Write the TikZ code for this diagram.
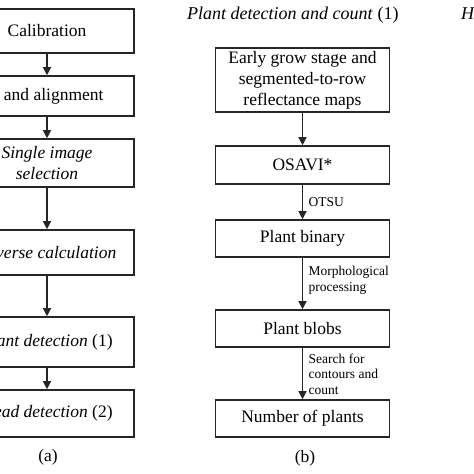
\documentclass[tikz,border=0pt]{standalone}
\usepackage{fontspec}
\setmainfont{Liberation Serif}
\usetikzlibrary{arrows.meta}
\begin{document}
\begin{tikzpicture}[x=1pt,y=-1pt,
  box/.style={draw=black!85, line width=1.6pt, fill=white, inner sep=0pt, align=center,
    minimum width=174pt, font=\fontsize{17.5}{21}\selectfont},
  arr/.style={-{Triangle[length=8pt,width=8pt]}, line width=1.3pt, draw=black!85},
  lab/.style={anchor=west, align=left, inner sep=0pt, font=\fontsize{13.5}{15.5}\selectfont},
  captxt/.style={inner sep=0pt, font=\fontsize{17.5}{21}\selectfont}]
\useasboundingbox (0,0) rectangle (474,474);
\clip (0,0) rectangle (474,474);
\fill[white] (0,0) rectangle (474,474);

% panel (a)
\node[box, minimum height=44pt] (a1) at (47,31) {Calibration};
\node[box, minimum height=40pt] (a2) at (47,96) {\makebox[113pt][r]{Registration and alignment}};
\node[box, minimum height=48pt] (a3) at (47,163) {\itshape Single image\\\itshape selection};
\node[box, minimum height=45pt] (a4) at (47,252.5) {\itshape Reverse calculation};
\node[box, minimum height=50pt] (a5) at (47,342) {\textit{Plant detection} (1)};
\node[box, minimum height=47pt] (a6) at (47,413.5) {\textit{Head detection} (2)};
\draw[arr] (a1) -- (a2);
\draw[arr] (a2) -- (a3);
\draw[arr] (a3) -- (a4);
\draw[arr] (a4) -- (a5);
\draw[arr] (a5) -- (a6);
\node[captxt] (capa) at (48,457) {(a)};

% panel (b)
\node[captxt, anchor=west, font=\fontsize{18}{21}\selectfont] (tb) at (187,15) {\textit{Plant detection and count} (1)};
\node[box, minimum height=64pt] (b1) at (302.5,80) {Early grow stage and\\segmented-to-row\\reflectance maps};
\node[box, minimum height=38pt] (b2) at (302.5,165) {OSAVI*};
\node[box, minimum height=37pt] (b3) at (302.5,238.5) {Plant binary};
\node[box, minimum height=37pt] (b4) at (302.5,328.5) {Plant blobs};
\node[box, minimum height=37pt] (b5) at (302.5,418.5) {Number of plants};
\draw[arr] (b1) -- (b2);
\draw[arr] (b2) -- node[lab, pos=0.5, xshift=5.5pt] (l1) {OTSU} (b3);
\draw[arr] (b3) -- (b4);
\draw[arr] (b4) -- (b5);
\node[lab] (l2) at (308.5,280.5) {Morphological\\processing};
\node[lab] (l3) at (308.5,374) {Search for\\contours and\\count};
\node[captxt] (capb) at (305,458) {(b)};

% panel (c) title, cut off
\node[captxt, anchor=west, font=\fontsize{18}{21}\selectfont] (tc) at (461,15) {\textit{Head detection} (2)};
\end{tikzpicture}
\end{document}
